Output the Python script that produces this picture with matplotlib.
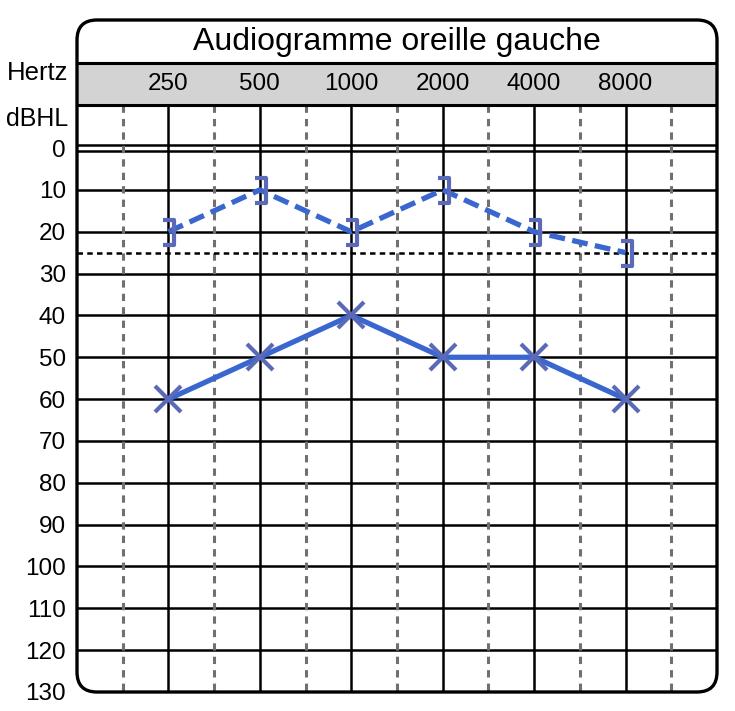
import numpy as np
import matplotlib
matplotlib.use("Agg")
import matplotlib.pyplot as plt
from matplotlib.patches import FancyBboxPatch, Rectangle
from matplotlib.path import Path

plt.rcParams['font.family'] = ['Liberation Sans', 'DejaVu Sans']

# --- Data ---
freqs = ['250', '500', '1000', '2000', '4000', '8000']
db_ticks = list(range(0, 140, 10))
air_db = [60, 50, 40, 50, 50, 60]      # solid line, X markers
bone_db = [20, 10, 20, 10, 20, 25]     # dashed line, ] markers
normal_limit = 25
title = 'Audiogramme oreille gauche'

# --- Colours ---
line_blue = '#3a66cf'
mark_blue = '#5b6ab8'
band_grey = '#d3d3d3'

W, H = 735, 711
fig = plt.figure(figsize=(W / 100, H / 100), dpi=100)
x0, x1, yb, yt = 77, 717, 692, 20
ax = fig.add_axes([x0 / W, (H - yb) / H, (x1 - x0) / W, (yb - yt) / H])
ax.set_xlim(-1, 6)
ax.set_ylim(130, -30.6)
for s in ax.spines.values():
    s.set_visible(False)

xs = np.arange(len(freqs))

# grey frequency band
ax.add_patch(Rectangle((-1, -20.4), 7, 10.2, facecolor=band_grey,
                       edgecolor='none', zorder=0))
ax.hlines([-20.4, -10.2], -1, 6, colors='black', lw=2.2, zorder=2)

# grid
ax.hlines(db_ticks[1:-1], -1, 6, colors='black', lw=1.8, zorder=1)
ax.hlines([-0.7, 0.65], -1, 6, colors='black', lw=1.8, zorder=1)
ax.vlines(xs, -10.2, 130, colors='black', lw=1.8, zorder=1)
ax.vlines(np.arange(-0.5, 6, 1.0), -10.2, 130, colors='#707070', lw=2.2,
          linestyles=(0, (2.4, 2.0)), zorder=1)
ax.axhline(normal_limit, color='black', lw=1.8, ls=(0, (2.2, 1.7)), zorder=2)

# frequency labels
for x, f in zip(xs, freqs):
    ax.text(x, -15.2, f, ha='center', va='center', fontsize=17.5)
ax.text(2.5, -25.4, title, ha='center', va='center', fontsize=23)

# rounded frame
frame = FancyBboxPatch((x0 / W, (H - yb) / H), (x1 - x0) / W, (yb - yt) / H,
                       boxstyle='round,pad=0,rounding_size=%f' % (20 / W),
                       mutation_aspect=W / H, transform=fig.transFigure,
                       facecolor='none', edgecolor='black', lw=2.4,
                       zorder=5, clip_on=False)
fig.patches.append(frame)

# bracket marker for bone conduction
bracket = Path([(-0.22, 0.5), (0.22, 0.5), (0.22, -0.5), (-0.22, -0.5)],
               [Path.MOVETO, Path.LINETO, Path.LINETO, Path.LINETO])

ax.plot(xs, bone_db, color=line_blue, lw=3.8, ls=(0, (3.0, 1.4)), zorder=3)
ax.plot(xs, bone_db, ls='none', marker=bracket, ms=18, mfc='none',
        mec=mark_blue, mew=3, zorder=4)
ax.plot(xs, air_db, color=line_blue, lw=3.8, zorder=3)
ax.plot(xs, air_db, ls='none', marker='x', ms=19, mec=mark_blue,
        mew=3, zorder=4)

# y axis labels
ax.set_xticks([])
ax.set_yticks(db_ticks)
ax.set_yticklabels([str(v) for v in db_ticks], fontsize=17.5)
ax.tick_params(axis='y', length=0, pad=8)
ax.text(-1.1, -17.9, 'Hertz', ha='right', va='center', fontsize=18.5)
ax.text(-1.1, -7.0, 'dBHL', ha='right', va='center', fontsize=18)

fig.savefig('out.png', dpi=100)
